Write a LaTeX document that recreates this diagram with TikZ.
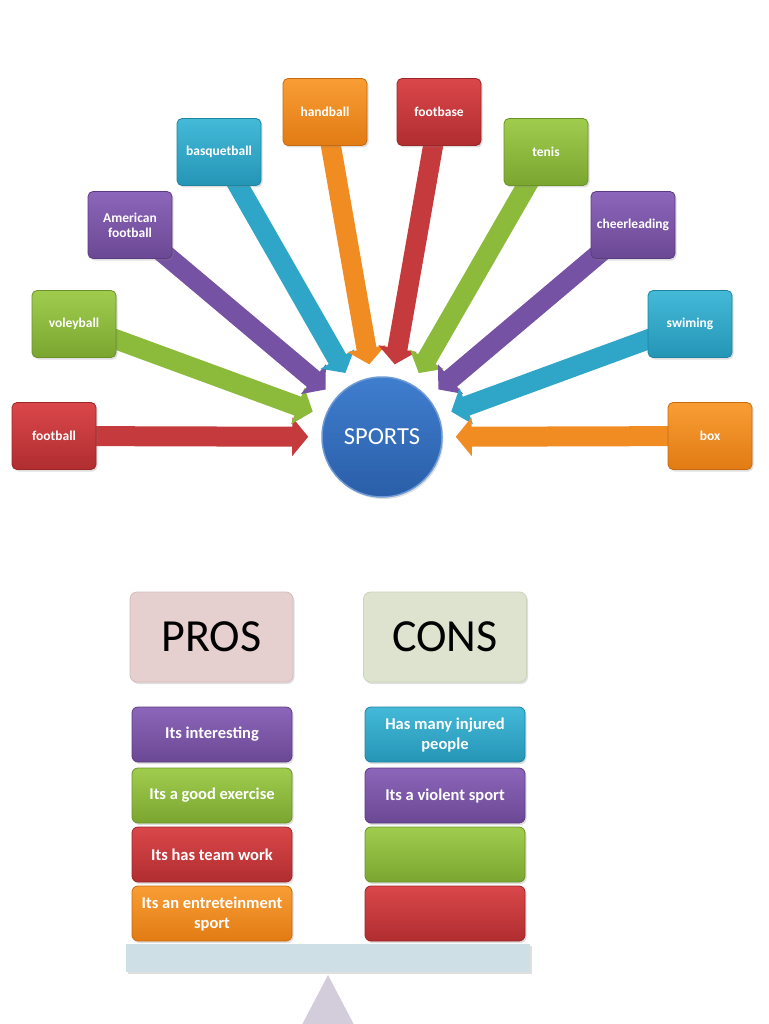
\documentclass[tikz,border=0pt]{standalone}
\usepackage{fontspec}
\setmainfont{Carlito}
\usetikzlibrary{arrows.meta,shadows}
\pgfdeclarelayer{bg}
\pgfsetlayers{bg,main}
\definecolor{redT}{HTML}{DA474A}\definecolor{redB}{HTML}{B02D30}\definecolor{redD}{HTML}{9C2527}\definecolor{redA}{HTML}{C53A3C}
\definecolor{grnT}{HTML}{A0CC4E}\definecolor{grnB}{HTML}{7AA630}\definecolor{grnD}{HTML}{6A9228}\definecolor{grnA}{HTML}{8CBB3C}
\definecolor{purT}{HTML}{8C66BA}\definecolor{purB}{HTML}{6B4894}\definecolor{purD}{HTML}{5B3C80}\definecolor{purA}{HTML}{7652A4}
\definecolor{cyaT}{HTML}{44B9D8}\definecolor{cyaB}{HTML}{2595B6}\definecolor{cyaD}{HTML}{1D84A2}\definecolor{cyaA}{HTML}{2FA6C8}
\definecolor{oraT}{HTML}{F89D34}\definecolor{oraB}{HTML}{E27B14}\definecolor{oraD}{HTML}{C96A0E}\definecolor{oraA}{HTML}{F08C22}
\definecolor{bluT}{HTML}{3F7ECE}\definecolor{bluB}{HTML}{2A5EA8}\definecolor{bluD}{HTML}{6E9AD6}
\definecolor{prosF}{HTML}{E6CFCF}\definecolor{prosD}{HTML}{D6BCBC}
\definecolor{consF}{HTML}{DDE3CF}\definecolor{consD}{HTML}{CBD3BB}
\definecolor{plankF}{HTML}{CFDFE6}\definecolor{triF}{HTML}{D2CCDB}
\tikzset{
  shad/.style={drop shadow={opacity=0.25,shadow xshift=1.5pt,shadow yshift=-2pt}},
  sbox/.style={shad,rounded corners=5pt,minimum width=84pt,minimum height=67pt,inner sep=2pt,
    text=white,font=\bfseries\fontsize{13.5}{15}\selectfont,align=center,line width=0.8pt},
  redbox/.style={sbox,top color=redT,bottom color=redB,draw=redD},
  grnbox/.style={sbox,top color=grnT,bottom color=grnB,draw=grnD},
  purbox/.style={sbox,top color=purT,bottom color=purB,draw=purD},
  cyabox/.style={sbox,top color=cyaT,bottom color=cyaB,draw=cyaD},
  orabox/.style={sbox,top color=oraT,bottom color=oraB,draw=oraD},
  arr/.style={line width=20pt,-{Triangle[width=38pt,length=16pt]},shorten >=13pt},
  lbox/.style={shad,rounded corners=6pt,minimum width=160pt,minimum height=55pt,inner sep=2pt,
    text=white,font=\bfseries\fontsize{16.5}{20}\selectfont,align=center,line width=0.8pt},
  hbox/.style={shad,rounded corners=7pt,minimum width=163pt,minimum height=90pt,
    font=\fontsize{46}{50}\selectfont,draw,line width=0.8pt},
}
\begin{document}
\begin{tikzpicture}[x=1pt,y=-1pt]
\useasboundingbox (0,0) rectangle (768,1024);
\clip (0,0) rectangle (768,1024);
% hub
\node[circle,minimum size=120pt,shad,top color=bluT,bottom color=bluB,draw=bluD,line width=1.5pt,
  text=white,font=\fontsize{24.5}{26}\selectfont] (sports) at (382,437) {SPORTS};
% sport boxes
\node[redbox] (football) at (54,436) {football};
\node[grnbox] (voleyball) at (74,324) {voleyball};
\node[purbox] (american) at (130,225) {American\\football};
\node[cyabox] (basquetball) at (219,152) {basquetball};
\node[orabox] (handball) at (325,112) {handball};
\node[redbox] (footbase) at (439,112) {footbase};
\node[grnbox] (tenis) at (546,152) {tenis};
\node[purbox] (cheer) at (633,225) {cheerleading};
\node[cyabox] (swiming) at (690,324) {swiming};
\node[orabox] (box) at (710,436) {box};
% arrows
\begin{pgfonlayer}{bg}
\draw[arr,redA] (football.center) -- (sports);
\draw[arr,grnA] (voleyball.center) -- (sports);
\draw[arr,purA] (american.center) -- (sports);
\draw[arr,cyaA] (basquetball.center) -- (sports);
\draw[arr,oraA] (handball.center) -- (sports);
\draw[arr,redA] (footbase.center) -- (sports);
\draw[arr,grnA] (tenis.center) -- (sports);
\draw[arr,purA] (cheer.center) -- (sports);
\draw[arr,cyaA] (swiming.center) -- (sports);
\draw[arr,oraA] (box.center) -- (sports);
\end{pgfonlayer}
% pros / cons
\node[hbox,fill=prosF,draw=prosD] (pros) at (211.5,637) {PROS};
\node[hbox,fill=consF,draw=consD] (cons) at (445,637) {CONS};
\node[lbox,top color=purT,bottom color=purB,draw=purD] (p1) at (212,734.5) {Its interesting};
\node[lbox,top color=grnT,bottom color=grnB,draw=grnD] (p2) at (212,795.5) {Its a good exercise};
\node[lbox,top color=redT,bottom color=redB,draw=redD] (p3) at (212,854.5) {Its has team work};
\node[lbox,top color=oraT,bottom color=oraB,draw=oraD] (p4) at (212,913.5) {Its an entreteinment\\sport};
\node[lbox,top color=cyaT,bottom color=cyaB,draw=cyaD] (c1) at (445,734.5) {Has many injured\\people};
\node[lbox,top color=purT,bottom color=purB,draw=purD] (c2) at (445,795.5) {Its a violent sport};
\node[lbox,top color=grnT,bottom color=grnB,draw=grnD] (c3) at (445,854.5) {};
\node[lbox,top color=redT,bottom color=redB,draw=redD] (c4) at (445,913.5) {};
% seesaw
\node[shad,fill=plankF,minimum width=404pt,minimum height=28pt,inner sep=0pt] (plank) at (328,958) {};
\fill[triF] (328,975) -- (294,1040) -- (362,1040) -- cycle;
\end{tikzpicture}
\end{document}
